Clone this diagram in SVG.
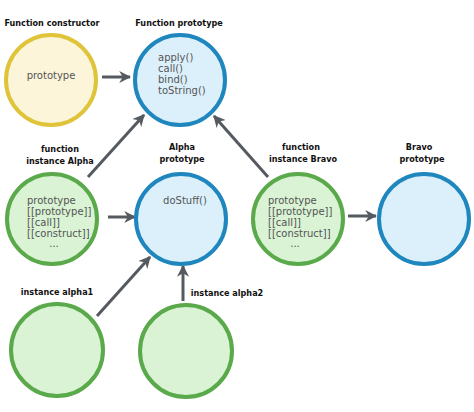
<svg xmlns="http://www.w3.org/2000/svg" width="474" height="412" viewBox="0 0 474 412">
<defs>
<marker id="ah" viewBox="0 0 10 10" refX="9" refY="5" markerWidth="4" markerHeight="4" markerUnits="strokeWidth" orient="auto">
<path d="M0,0 L10,5 L0,10 L3,5 Z" fill="#555a60"/>
</marker>
<style>
.yel{fill:#fcf5d9;stroke:#dfc43a;stroke-width:4}
.blu{fill:#dcf0fb;stroke:#1f87bd;stroke-width:4}
.grn{fill:#d9f3d4;stroke:#5aa94a;stroke-width:4}
.t{font-family:"DejaVu Sans Condensed","DejaVu Sans",sans-serif;font-size:9px;font-weight:bold;fill:#111;text-anchor:middle}
.c{font-family:"DejaVu Sans","Liberation Sans",sans-serif;font-size:10px;fill:#555}
.m{text-anchor:middle}
.e{fill:none;stroke:#555a60;stroke-width:3;marker-end:url(#ah)}
</style>
</defs>
<rect width="474" height="412" fill="#fff"/>
<g id="connectors">
<line class="e" x1="102" y1="77" x2="130" y2="77"/>
<line class="e" x1="88" y1="177" x2="144" y2="115"/>
<line class="e" x1="268" y1="177" x2="214" y2="116"/>
<line class="e" x1="108" y1="217" x2="135" y2="217"/>
<line class="e" x1="348" y1="216" x2="376" y2="216"/>
<line class="e" x1="97" y1="316" x2="150" y2="257"/>
<line class="e" x1="183" y1="301" x2="183" y2="266"/>
</g>
<g id="function-constructor">
<text class="t" x="52" y="26">Function constructor</text>
<circle class="yel" cx="51" cy="80" r="45"/>
<text class="c m" x="51" y="79">prototype</text>
</g>
<g id="function-prototype">
<text class="t" x="179" y="26">Function prototype</text>
<circle class="blu" cx="180" cy="80" r="45"/>
<text class="c" x="158" y="61">apply()</text>
<text class="c" x="158" y="72">call()</text>
<text class="c" x="158" y="83">bind()</text>
<text class="c" x="158" y="94">toString()</text>
</g>
<g id="function-instance-alpha">
<text class="t" x="60" y="152">function</text>
<text class="t" x="60" y="164">instance Alpha</text>
<circle class="grn" cx="52" cy="219" r="45"/>
<text class="c" x="27" y="204">prototype</text>
<text class="c" x="27" y="215">[[prototype]]</text>
<text class="c" x="27" y="226">[[call]]</text>
<text class="c" x="27" y="237">[[construct]]</text>
<text class="c m" x="54" y="247">...</text>
</g>
<g id="alpha-prototype">
<text class="t" x="182" y="150">Alpha</text>
<text class="t" x="182" y="162">prototype</text>
<circle class="blu" cx="181" cy="219" r="45"/>
<text class="c m" x="185" y="204">doStuff()</text>
</g>
<g id="function-instance-bravo">
<text class="t" x="301" y="150">function</text>
<text class="t" x="303" y="162">instance Bravo</text>
<circle class="grn" cx="298" cy="219" r="45"/>
<text class="c" x="268" y="204">prototype</text>
<text class="c" x="268" y="215">[[prototype]]</text>
<text class="c" x="268" y="226">[[call]]</text>
<text class="c" x="268" y="237">[[construct]]</text>
<text class="c m" x="295" y="247">...</text>
</g>
<g id="bravo-prototype">
<text class="t" x="419" y="150">Bravo</text>
<text class="t" x="422" y="162">prototype</text>
<circle class="blu" cx="424" cy="219" r="45"/>
</g>
<g id="instance-alpha1">
<text class="t" x="57" y="295">instance alpha1</text>
<circle class="grn" cx="57" cy="350" r="46"/>
</g>
<g id="instance-alpha2">
<text class="t" x="227" y="296">instance alpha2</text>
<circle class="grn" cx="186" cy="351" r="46"/>
</g>
</svg>
